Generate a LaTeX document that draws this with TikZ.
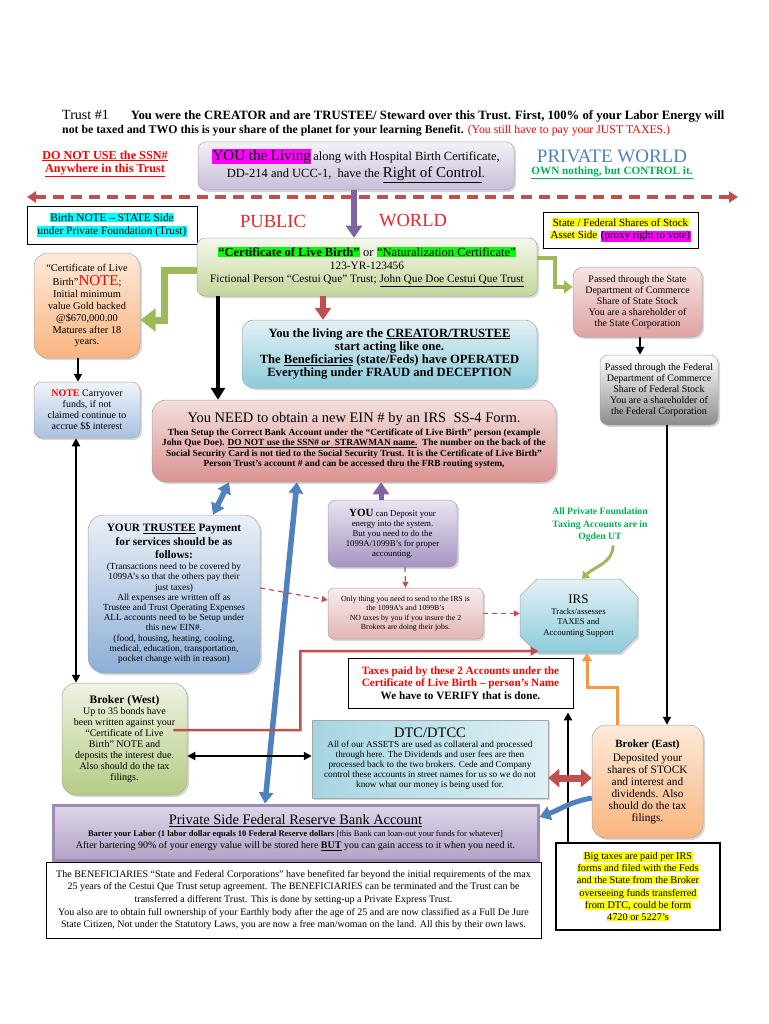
\documentclass[tikz,border=0pt]{standalone}
\usepackage{fontspec}
\setmainfont{Liberation Serif}
\usetikzlibrary{arrows.meta,shadows}
\newcommand\fsz[2]{\fontsize{#1}{#2}\selectfont}
\newcommand\hlt[2]{{\setlength{\fboxsep}{0.4pt}\colorbox{#1}{#2}}}
\definecolor{dred}{HTML}{C0504D}
\definecolor{dpurple}{HTML}{8064A2}
\definecolor{dgreen}{HTML}{9BBB59}
\definecolor{dblue}{HTML}{4F81BD}
\definecolor{dorange}{HTML}{F79646}
\definecolor{hlgreen}{HTML}{00FF00}
\definecolor{hlcyan}{HTML}{00FFFF}
\definecolor{hlyellow}{HTML}{FFFF00}
\definecolor{hlmag}{HTML}{FF00FF}
\definecolor{ggreen}{HTML}{00B050}
\definecolor{pwblue}{HTML}{4F81BD}
\definecolor{pubred}{HTML}{E8262A}
\definecolor{youT}{HTML}{F4F1F8}\definecolor{youB}{HTML}{C8BDD8}
\definecolor{certT}{HTML}{F5F8EC}\definecolor{certB}{HTML}{C4D79B}
\definecolor{orT}{HTML}{FDEADA}\definecolor{orB}{HTML}{F9B47F}
\definecolor{carT}{HTML}{F0F4FA}\definecolor{carB}{HTML}{A9C1E0}
\definecolor{tealT}{HTML}{E3F1F5}\definecolor{tealB}{HTML}{8CCBDB}
\definecolor{pinkT}{HTML}{F8E4E4}\definecolor{pinkB}{HTML}{DFA3A2}
\definecolor{grayB}{HTML}{8C8C8C}
\definecolor{einT}{HTML}{F4DEDD}\definecolor{einB}{HTML}{D99391}
\definecolor{trT}{HTML}{EAF0F8}\definecolor{trB}{HTML}{8EAFD6}
\definecolor{depT}{HTML}{EAE4F0}\definecolor{depB}{HTML}{A694C4}
\definecolor{onT}{HTML}{F9EDED}\definecolor{onB}{HTML}{E3B5B4}
\definecolor{wT}{HTML}{EEF3E2}\definecolor{wB}{HTML}{B5CC85}
\definecolor{dtcL}{HTML}{A5D5E2}\definecolor{dtcR}{HTML}{DDF0F5}
\definecolor{frT}{HTML}{DED6EA}\definecolor{frB}{HTML}{B3A2C7}
\definecolor{frD}{HTML}{9E8BB8}
\begin{document}
\begin{tikzpicture}[x=1pt,y=-1pt,
  rbox/.style={draw=black!35, line width=0.5pt, rounded corners=8pt, align=center, inner sep=1pt,
     drop shadow={opacity=0.3,shadow xshift=2pt,shadow yshift=-2pt}},
  sqbox/.style={draw=black!35, line width=0.5pt, align=center, inner sep=1pt,
     drop shadow={opacity=0.3,shadow xshift=2pt,shadow yshift=-2pt}},
  plainbox/.style={draw=black, line width=0.8pt, fill=white, align=center, inner sep=1pt},
  flyou/.style={top color=youT, bottom color=youB},
  flcert/.style={top color=certT, bottom color=certB},
  florange/.style={top color=orT, bottom color=orB},
  flcarry/.style={top color=carT, bottom color=carB},
  flteal/.style={top color=tealT, bottom color=tealB},
  flpink/.style={top color=pinkT, bottom color=pinkB},
  flgray/.style={top color=white, bottom color=grayB},
  flein/.style={top color=einT, bottom color=einB},
  fltrust/.style={top color=trT, bottom color=trB},
  fldep/.style={top color=depT, bottom color=depB},
  flonly/.style={top color=onT, bottom color=onB},
  flwest/.style={top color=wT, bottom color=wB},
  fldtc/.style={left color=dtcL, right color=dtcR},
  flfres/.style={top color=frT, bottom color=frB},
  blkarrow/.style={draw=black, line width=2pt, -{Triangle[width=8pt,length=8pt]}},
  blkdouble/.style={draw=black, line width=2pt, {Triangle[width=8pt,length=8pt]}-{Triangle[width=8pt,length=8pt]}},
  fatblk/.style={draw=black, line width=4.5pt, -{Triangle[width=14pt,length=12pt]}},
  purparrow/.style={draw=dpurple, line width=6pt, -{Triangle[width=16pt,length=12pt]}},
  redfat/.style={draw=dred, line width=6pt, -{Triangle[width=16pt,length=12pt]}},
  reddouble/.style={draw=dred, line width=7pt, {Triangle[width=18pt,length=11pt]}-{Triangle[width=18pt,length=11pt]}},
  greenelbow/.style={draw=dgreen, line width=#1, -{Triangle[width=3.2*#1,length=2.2*#1]}},
  bluedouble/.style={draw=dblue, line width=5.5pt, {Triangle[width=14pt,length=11pt]}-{Triangle[width=14pt,length=11pt]}},
  bluecurve/.style={draw=dblue, line width=5pt, -{Triangle[width=14pt,length=11pt]}},
  dashred/.style={draw=dred, line width=1.2pt, dash pattern=on 5pt off 4pt, -{Triangle[width=6pt,length=6pt]}},
  orangearrow/.style={draw=dorange, line width=3pt, -{Triangle[width=10pt,length=8pt]}},
  redline/.style={draw=dred, line width=2.5pt, -{Triangle[width=9pt,length=8pt]}}
]
\useasboundingbox[fill=white] (0,0) rectangle (768,1024);

% header
\node[anchor=base west, inner sep=0] (hdr1) at (62,120) {{\fsz{14}{16}Trust \#1}\hspace{22pt}{\fsz{12.7}{14}\bfseries You were the CREATOR and are TRUSTEE/ Steward over this Trust. First, 100\% of your Labor Energy will}};
\node[anchor=base west, inner sep=0] (hdr2) at (62,134) {\fsz{11.8}{13}\textbf{not be taxed and TWO this is your share of the planet for your learning Benefit.} \textcolor{red}{(You still have to pay your JUST TAXES.)}};

\node[font=\fsz{12.2}{13.5}\bfseries, text=red, align=center] (ssn) at (105,164) {\underline{DO NOT USE the SSN\#}\\\underline{Anywhere in this Trust}};

\node[rbox, flyou, minimum width=316pt, minimum height=48pt, font=\fsz{12.5}{17}] (you) at (356,166)
 {\hlt{hlmag}{\fsz{15}{17}YOU the Living}\,along with Hospital Birth Certificate,\\DD-214 and UCC-1,\ \ have the \underline{\fsz{15}{17}Right of Control}.};

\node[text=pwblue, font=\fsz{19}{20}] (pw) at (612,156) {PRIVATE WORLD};
\node[text=ggreen, font=\fsz{11.2}{12}\bfseries] (own) at (612,173) {\underline{OWN nothing, but CONTROL it.}};

\coordinate (dl) at (27,197);
\coordinate (dr) at (738,197);
\draw[dred, line width=3.5pt, dash pattern=on 11pt off 7pt, {Triangle[width=11pt,length=9pt]}-{Triangle[width=11pt,length=9pt]}] (dl) -- (dr);

\node[text=pubred, font=\fsz{18.5}{20}] (public) at (273,221) {PUBLIC};
\node[text=pubred, font=\fsz{18.5}{20}] (world) at (413,221) {WORLD};

\node[plainbox, minimum width=170pt, minimum height=38pt, font=\fsz{11.3}{13}] (bnote) at (112,225)
 {\hlt{hlcyan}{Birth NOTE – STATE Side}\\\hlt{hlcyan}{under Private Foundation (Trust)}};

\node[plainbox, minimum width=155pt, minimum height=36pt, font=\fsz{11}{12.5}] (sasset) at (620.5,230)
 {\hlt{hlyellow}{State / Federal Shares of Stock}\\\hlt{hlyellow}{Asset Side} \hlt{hlmag}{(proxy right to vote)}};

\node[rbox, flcert, minimum width=340pt, minimum height=58pt, font=\fsz{11.3}{13}] (cert) at (367,267)
 {{\fsz{12.5}{13}\hlt{hlgreen}{\textbf{“Certificate of Live Birth”}} or \hlt{hlgreen}{“Naturalization Certificate”}}\\123-YR-123456\\Fictional Person “Cestui Que” Trust; \underline{John Que Doe Cestui Que Trust}};

\node[rbox, rounded corners=14pt, florange, minimum width=106pt, minimum height=105pt, font=\fsz{10.4}{11.8}] (cnote) at (87,305.5)
 {“Certificate of Live\\[3pt]Birth”\textcolor{red}{\fsz{15}{15}NOTE};\\Initial minimum\\value Gold backed\\@\$670,000.00\\Matures after 18\\years.};

\node[rbox, flcarry, minimum width=106pt, minimum height=56pt, font=\fsz{10}{10.8}] (carry) at (87,410)
 {\textcolor{red}{\textbf{NOTE}} Carryover\\funds, if not\\claimed continue to\\accrue \$\$ interest};

\node[rbox, rounded corners=12pt, flteal, minimum width=295pt, minimum height=68pt, font=\fsz{12.6}{13.3}\bfseries] (living) at (389.5,354)
 {You the living are the \underline{CREATOR/TRUSTEE}\\start acting like one.\\The \underline{Beneficiaries} (state/Feds) have OPERATED\\Everything under FRAUD and DECEPTION};

\node[rbox, rounded corners=10pt, flpink, minimum width=129pt, minimum height=70pt, font=\fsz{10}{11}] (sbox) at (637.5,302)
 {Passed through the State\\Department of Commerce\\Share of State Stock\\You are a shareholder of\\the State Corporation};

\node[rbox, flgray, minimum width=118pt, minimum height=70pt, font=\fsz{10}{11}] (fbox) at (659,390)
 {Passed through the Federal\\Department of Commerce\\Share of Federal Stock\\You are a shareholder of\\the Federal Corporation};

\node[rbox, rounded corners=14pt, flein, minimum width=404pt, minimum height=82pt, font=\fsz{9.4}{10.5}\bfseries] (ein) at (354,441)
 {{\fsz{14.5}{16}\mdseries You NEED to obtain a new EIN \# by an IRS\ \ SS-4 Form.}\\[2pt]
  Then Setup the Correct Bank Account under the “Certificate of Live Birth” person (example\\
  John Que Doe). \underline{DO NOT use the SSN\# or\ \ STRAWMAN name.}\ \ The number on the back of the\\
  Social Security Card is not tied to the Social Security Trust. It is the Certificate of Live Birth”\\
  Person Trust’s account \# and can be accessed thru the FRB routing system,};

\node[rbox, rounded corners=16pt, fltrust, minimum width=172pt, minimum height=158pt, font=\fsz{9.3}{10.2}] (trustee) at (174,594)
 {{\fsz{11.3}{12.5}\bfseries YOUR \underline{TRUSTEE} Payment}\\[2.5pt]{\fsz{11.3}{12.5}\bfseries for services should be as}\\[2.5pt]{\fsz{11.3}{12.5}\bfseries follows:}\\[1pt]
  (Transactions need to be covered by\\1099A’s so that the others pay their\\just taxes)\\All expenses are written off as\\Trustee and Trust Operating Expenses\\ALL accounts need to be Setup under\\this new EIN\#.\\(food, housing, heating, cooling,\\medical, education, transportation,\\pocket change with in reason)};

\node[rbox, fldep, minimum width=129pt, minimum height=67pt, font=\fsz{8.8}{10}] (dep) at (392.5,533.5)
 {{\fsz{11}{12}\textbf{YOU}} can Deposit your\\energy into the system.\\But you need to do the\\1099A/1099B’s for proper\\accounting.};

\node[rbox, rounded corners=6pt, flonly, minimum width=155pt, minimum height=51pt, font=\fsz{7.8}{9.5}] (only) at (405.5,613.5)
 {Only thing you need to send to the IRS is\\the 1099A’s and 1099B’s\\NO taxes by you if you insure the 2\\Brokers are doing their jobs.};

% IRS octagon
\shade[flteal, draw=black!35, line width=0.5pt, drop shadow={opacity=0.3,shadow xshift=2pt,shadow yshift=-2pt}]
  (520,596) -- (537,579) -- (620,579) -- (637,596) -- (637,636) -- (620,653) -- (537,653) -- (520,636) -- cycle;
\node[align=center, minimum width=117pt, minimum height=74pt, inner sep=0, font=\fsz{8.7}{10.5}] (irs) at (578.5,616)
 {{\fsz{13}{14}IRS}\\Tracks/assesses\\TAXES and\\Accounting Support};

\node[text=ggreen, font=\fsz{9.7}{12.5}\bfseries, align=center] (ogden) at (600,525)
 {All Private Foundation\\Taxing Accounts are in\\Ogden UT};

\node[plainbox, minimum width=225pt, minimum height=50pt, font=\fsz{11.2}{12.8}\bfseries] (taxes) at (460.5,683)
 {\textcolor{red}{Taxes paid by these 2 Accounts under the}\\\textcolor{red}{Certificate of Live Birth – person’s Name}\\We have to VERIFY that is done.};

\node[rbox, rounded corners=14pt, flwest, minimum width=125pt, minimum height=112pt, font=\fsz{10}{10.9}] (west) at (124.5,739)
 {{\fsz{11.5}{13}\textbf{Broker (West)}}\\Up to 35 bonds have\\been written against your\\“Certificate of Live\\Birth” NOTE and\\deposits the interest due.\\Also should do the tax\\filings.};

\node[sqbox, fldtc, minimum width=236pt, minimum height=78pt, font=\fsz{9.2}{10}] (dtc) at (430,759)
 {{\fsz{14.5}{15}DTC/DTCC}\\All of our ASSETS are used as collateral and processed\\through here. The Dividends and user fees are then\\processed back to the two brokers. Cede and Company\\control these accounts in street names for us so we do not\\know what our money is being used for.};

\node[rbox, rounded corners=14pt, florange, minimum width=111pt, minimum height=113pt, font=\fsz{11.3}{12}] (east) at (647.5,781.5)
 {{\fsz{11}{13}\textbf{Broker (East)}}\\[2pt]Deposited your\\shares of STOCK\\and interest and\\dividends. Also\\should do the tax\\filings.};

\node[sqbox, flfres, draw=frD, line width=3pt, minimum width=485pt, minimum height=55pt, font=\fsz{10}{12}] (fres) at (295.5,832.5)
 {{\fsz{14.4}{15}\underline{Private Side Federal Reserve Bank Account}}\\
  {\fsz{8.5}{11}\textbf{Barter your Labor (1 labor dollar equals 10 Federal Reserve dollars} [this Bank can loan-out your funds for whatever]}\\
  After bartering 90\% of your energy value will be stored here \underline{\textbf{BUT}} you can gain access to it when you need it.};

\node[plainbox, minimum width=495pt, minimum height=76pt, font=\fsz{10}{12.7}] (btm) at (293.5,900)
 {The BENEFICIARIES “State and Federal Corporations” have benefited far beyond the initial requirements of the max\\
  25 years of the Cestui Que Trust setup agreement. The BENEFICIARIES can be terminated and the Trust can be\\
  transferred a different Trust. This is done by setting-up a Private Express Trust.\\
  You also are to obtain full ownership of your Earthly body after the age of 25 and are now classified as a Full De Jure\\
  State Citizen, Not under the Statutory Laws, you are now a free man/woman on the land. All this by their own laws.};

\node[plainbox, line width=1.3pt, minimum width=164pt, minimum height=87pt, font=\fsz{10.3}{12.3}] (btax) at (638,886.5)
 {\hlt{hlyellow}{Big taxes are paid per IRS}\\\hlt{hlyellow}{forms and filed with the Feds}\\\hlt{hlyellow}{and the State from the Broker}\\\hlt{hlyellow}{overseeing funds transferred}\\\hlt{hlyellow}{from DTC, could be form}\\\hlt{hlyellow}{4720 or 5227’s}};

% connectors
\draw[purparrow] ([xshift=-2pt]you.south) -- ([xshift=-13pt]cert.north);
\draw[greenelbow=7pt] ([yshift=-3pt]cert.west) -- ++(-32,0) |- ([yshift=-14.5pt]cnote.east);
\draw[greenelbow=4pt] ([yshift=9pt]cert.east) -- ++(18,0) |- ([yshift=15pt]sbox.west);
\draw[redfat] ([xshift=-44pt]cert.south) -- ([xshift=-66.5pt]living.north);
\draw[fatblk] ([xshift=-149pt]cert.south) -- ([xshift=-136pt]ein.north);
\draw[blkarrow] ([xshift=-9pt]cnote.south) -- ([xshift=-9pt]carry.north);
\draw[blkdouble] ([xshift=-11pt]carry.south) -- ([xshift=-48.5pt]west.north);
\draw[blkarrow] ([xshift=2.5pt]sbox.south) -- ([xshift=-19pt]fbox.north);
\draw[blkarrow] ([xshift=8pt]fbox.south) -- ([xshift=19.5pt]east.north);
\draw[blkarrow] ([xshift=-70pt]btax.north) -- ([xshift=107.5pt,yshift=-4pt]taxes.south);
\draw[purparrow, line width=5pt] ([xshift=-11.5pt]dep.north) -- ([xshift=27pt]ein.south);
\draw[bluedouble] ([xshift=39pt]trustee.north) -- ([xshift=-125pt]ein.south);
\draw[bluedouble] ([xshift=-57pt]ein.south) -- ([xshift=-30.5pt]fres.north);
\draw[dashred] ([xshift=12.5pt]dep.south) -- (only.north);
\draw[dashred] ([yshift=6pt]trustee.east) -- ([yshift=13.5pt]only.west);
\draw[dashred] (only.east) -- ([yshift=2.5pt]irs.west);
\draw[greenelbow=3pt] ([xshift=13pt]ogden.south) to[out=-90,in=45] ([xshift=3.5pt]irs.north);
\draw[redline] ([xshift=-14pt,yshift=9pt]west.east) -- ++(127,0) -- ++(0,-79) -- ([xshift=-40pt,yshift=2pt]irs.south);
\draw[orangearrow] ([xshift=-30.5pt]east.north) -- ++(0,-37) -| ([xshift=8.5pt]irs.south);
\draw[blkdouble] ([yshift=-17pt]west.east) -- ([yshift=3pt]dtc.west);
\draw[reddouble] ([yshift=-19pt]dtc.east) -- ([yshift=3.5pt]east.west);
\draw[bluecurve] ([yshift=-16.5pt]east.west) to[out=190,in=20] ([yshift=15.5pt]fres.east);
\end{tikzpicture}
\end{document}
